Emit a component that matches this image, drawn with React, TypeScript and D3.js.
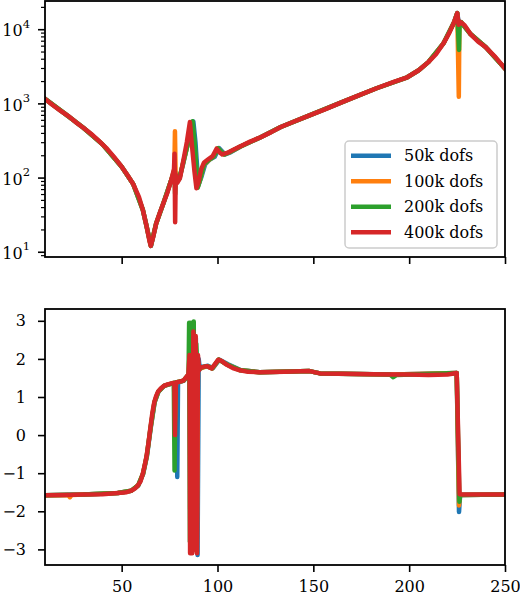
import React, { useEffect, useRef } from 'react';
import * as d3 from 'd3';

type Pt = [number, number];

// amplitude panel (log scale)
const ampBlue: Pt[] = [
  [10, 1150], [20, 740], [30, 470], [40, 280], [50, 140], [56, 82], [61, 37], [63, 22],
  [65.3, 12], [68, 24], [72, 47], [76, 95], [78, 120], [80, 95], [82, 150], [85, 330],
  [87.4, 570], [88.5, 300], [90, 78], [91.5, 100], [93.5, 150], [96, 175], [98.5, 190],
  [100.8, 250], [102.5, 225], [104, 205], [107, 220], [112, 262], [122, 345], [133, 480],
  [148, 690], [165, 1040], [183, 1600], [199, 2250], [205, 2800], [210, 3600], [218, 6500],
  [223.5, 12500], [225.1, 16500], [226, 11500], [227, 12500], [232, 8600], [240, 5700], [250, 2950],
];
const ampOrange: Pt[] = [
  [10, 1150], [20, 740], [30, 470], [40, 280], [50, 140], [56, 82], [61, 37], [63, 22],
  [65.2, 12], [68, 24], [72, 47], [76, 95], [77.5, 130], [77.8, 420], [78.2, 90], [80, 95],
  [82, 155], [85, 320], [86.8, 560], [88, 260], [89.6, 74], [91, 95], [93, 150], [95.5, 172],
  [98, 192], [100.2, 248], [102, 222], [103.5, 205], [106, 218], [112, 263], [122, 345],
  [133, 480], [148, 690], [165, 1040], [183, 1600], [199, 2250], [205, 2800], [210, 3600],
  [218, 6500], [223.5, 12500], [225.1, 16500], [225.9, 1230], [226.2, 11500], [227, 12500],
  [232, 8600], [240, 5700], [250, 2950],
];
const ampGreen: Pt[] = [
  [10, 1150], [20, 740], [30, 470], [40, 280], [50, 140], [56, 82], [61, 37], [63, 22],
  [65.2, 12], [68, 24], [72, 47], [76, 95], [77.5, 125], [77.9, 60], [78.3, 100], [80, 95],
  [82, 155], [85, 320], [87, 575], [88.2, 270], [89.7, 73], [91, 95], [93, 152], [95.5, 173],
  [98, 192], [100.3, 248], [102, 222], [103.6, 205], [106, 218], [112, 263], [122, 345],
  [133, 480], [148, 690], [165, 1040], [183, 1600], [199, 2250], [205, 2800], [210, 3600],
  [218, 6500], [223.5, 12500], [225.1, 16500], [226, 5250], [226.3, 11500], [227, 12500],
  [232, 8600], [240, 5700], [250, 2950],
];
const ampRed: Pt[] = [
  [10, 1150], [14, 950], [18, 800], [22, 680], [26, 560], [30, 470], [34, 390], [38, 315],
  [42, 250], [46, 190], [50, 140], [53, 108], [56, 82], [59, 55], [61, 37], [63, 22],
  [64.5, 14], [65.2, 12], [66.5, 16], [68, 24], [70, 34], [72, 47], [74, 64], [76, 95],
  [77.3, 130], [77.6, 210], [77.9, 25], [78.2, 110], [79, 85], [80.5, 100], [82, 160],
  [84, 300], [85.6, 560], [86.5, 300], [88, 120], [89, 72], [90, 85], [91.5, 130], [93, 160],
  [95, 175], [97.5, 195], [99.5, 245], [101, 220], [102.5, 205], [105, 215], [108, 235],
  [112, 265], [117, 305], [122, 345], [128, 410], [133, 480], [140, 570], [148, 690],
  [156, 830], [165, 1040], [174, 1290], [183, 1600], [192, 1950], [199, 2250], [205, 2800],
  [210, 3600], [214, 4600], [218, 6500], [221, 9000], [223.5, 12500], [225.1, 16500],
  [225.8, 11500], [226.8, 12500], [229, 11200], [232, 8600], [236, 6800], [240, 5700],
  [245, 4200], [250, 2950],
];

// phase panel (linear)
const phaseBlue: Pt[] = [
  [10, -1.58], [30, -1.56], [48, -1.52], [55, -1.46], [58.7, -1.32], [61.2, -1.02], [63.2, -0.55],
  [65.2, 0.2], [67.2, 0.86], [69.2, 1.14], [72.2, 1.29], [77.5, 1.37], [78.6, 1.36], [79, -1.1],
  [79.4, 1.38], [82.5, 1.43], [85.2, 1.59], [86, 2.2], [86.6, -2.9], [87.3, 2.3], [88, -2.9],
  [88.7, 2.55], [89.6, -3.15], [90.2, 2.0], [90.8, 1.72], [91.4, 1.78], [95, 1.82], [97.6, 1.76],
  [101, 1.98], [105.5, 1.86], [112, 1.71], [122, 1.65], [148, 1.68], [153.5, 1.62], [191.7, 1.59],
  [224.8, 1.63], [226, -2.02], [226.6, -1.57], [250, -1.56],
];
const phaseOrange: Pt[] = [
  [10, -1.58], [22, -1.57], [23, -1.63], [24, -1.57], [30, -1.56], [48, -1.52], [55, -1.46],
  [58.6, -1.32], [61.1, -1.02], [63.1, -0.55], [65.1, 0.2], [67.1, 0.86], [69.1, 1.14],
  [72, 1.29], [77.3, 1.37], [77.8, 0.4], [78.3, 1.38], [82.3, 1.43], [85, 1.59], [85.5, 2.3],
  [86, -3.0], [86.8, 2.5], [87.6, -3.0], [88.4, 2.6], [89.2, -3.05], [89.8, 1.9], [90.5, 1.74],
  [94.6, 1.81], [97.3, 1.75], [100.7, 1.98], [105, 1.85], [112, 1.7], [122, 1.65], [148, 1.68],
  [153.5, 1.62], [191.7, 1.59], [224.8, 1.63], [226, -1.85], [226.5, -1.57], [250, -1.56],
];
const phaseGreen: Pt[] = [
  [10, -1.58], [30, -1.56], [48, -1.52], [55, -1.46], [58.6, -1.32], [61.1, -1.02], [63.1, -0.55],
  [65.1, 0.2], [67.1, 0.86], [69.1, 1.14], [72, 1.29], [77.2, 1.37], [77.6, -0.93], [78.1, 1.38],
  [82.3, 1.43], [84.9, 1.59], [85.2, 2.95], [85.6, -2.8], [86.2, 2.95], [86.8, -2.9],
  [87.6, 2.98], [88.2, -2.9], [88.9, 2.4], [89.5, 1.8], [90.6, 1.76], [94.5, 1.81], [97.2, 1.75],
  [100.6, 1.98], [105, 1.85], [112, 1.7], [122, 1.65], [148, 1.68], [153.5, 1.62], [190, 1.59],
  [191.7, 1.52], [193.5, 1.58], [224.8, 1.63], [226.2, -1.75], [226.6, -1.57], [250, -1.56],
];
const phaseRed: Pt[] = [
  [10, -1.58], [20, -1.57], [30, -1.56], [40, -1.55], [48, -1.52], [52.6, -1.5], [55, -1.46],
  [57, -1.4], [58.5, -1.32], [59.8, -1.22], [61, -1.02], [62, -0.8], [63, -0.55], [64, -0.2],
  [65, 0.2], [66, 0.58], [67, 0.86], [68, 1.03], [69, 1.14], [70.5, 1.23], [72, 1.29],
  [74, 1.33], [77, 1.37], [77.5, 1.35], [77.8, 0.0], [78.3, 1.38], [80, 1.4], [82.2, 1.43],
  [84.8, 1.59], [85.4, 2.1], [85.7, -3.1], [86.2, 2.0], [86.8, -3.1], [87.4, 2.72], [88.0, -3.0],
  [88.6, 2.6], [89.3, -3.1], [89.8, 2.1], [90.4, 1.7], [90.9, 1.77], [94.4, 1.81], [97, 1.75],
  [98.5, 1.85], [100.4, 1.98], [102, 1.95], [104.7, 1.85], [108, 1.76], [111.7, 1.7],
  [116, 1.66], [122, 1.65], [135, 1.66], [148, 1.68], [153.5, 1.62], [165, 1.61], [180, 1.6],
  [191.7, 1.59], [200, 1.59], [210, 1.58], [220, 1.59], [224.8, 1.63], [226.3, -1.55],
  [228, -1.56], [240, -1.56], [250, -1.56],
];

const seriesNames = ['50k dofs', '100k dofs', '200k dofs', '400k dofs'];
const colors = ['#1f77b4', '#ff7f0e', '#2ca02c', '#d62728'];
const ampSeries = [ampBlue, ampOrange, ampGreen, ampRed];
const phaseSeries = [phaseBlue, phaseOrange, phaseGreen, phaseRed];

const xTicks = [50, 100, 150, 200, 250];
const ampTicks = [10, 100, 1000, 10000];
const phaseTicks = [-3, -2, -1, 0, 1, 2, 3];

const FONT = '"DejaVu Serif", serif';

const App: React.FC = () => {
  const ref = useRef<SVGSVGElement>(null);

  useEffect(() => {
    if (!ref.current) return;
    const svg = d3.select(ref.current);
    svg.selectAll('*').remove();

    const left = 45, right = 505;
    const top1 = 1, bot1 = 257;
    const top2 = 309, bot2 = 565;

    const x = d3.scaleLinear().domain([10, 250]).range([left, right]);
    const yAmp = d3.scaleLog().domain([8.5, 24000]).range([bot1, top1]);
    const yPh = d3.scaleLinear().domain([-3.41, 3.31]).range([bot2, top2]);

    const defs = svg.append('defs');
    defs.append('clipPath').attr('id', 'clip1').append('rect')
      .attr('x', left).attr('y', top1).attr('width', right - left).attr('height', bot1 - top1);
    defs.append('clipPath').attr('id', 'clip2').append('rect')
      .attr('x', left).attr('y', top2).attr('width', right - left).attr('height', bot2 - top2);

    const styleAxis = (g: d3.Selection<SVGGElement, unknown, null, undefined>, w: number) => {
      g.select('.domain').remove();
      g.selectAll('.tick line').attr('stroke', '#000').attr('stroke-width', w);
    };

    // ---- top panel
    const line1 = d3.line<Pt>().x(d => x(d[0])).y(d => yAmp(d[1]));
    const g1 = svg.append('g').attr('clip-path', 'url(#clip1)');
    ampSeries.forEach((s, i) => {
      g1.append('path').datum(s)
        .attr('fill', 'none').attr('stroke', colors[i]).attr('stroke-width', 4.5)
        .attr('stroke-linejoin', 'round').attr('stroke-linecap', 'square')
        .attr('d', line1);
    });

    const minor: number[] = [9];
    [10, 100, 1000].forEach(b => { for (let k = 2; k <= 9; k++) minor.push(b * k); });
    minor.push(20000);

    const ya = svg.append('g').attr('transform', `translate(${left},0)`)
      .call(d3.axisLeft(yAmp).tickValues(minor).tickSize(4).tickFormat(() => ''));
    styleAxis(ya, 1.2);

    const yA = svg.append('g').attr('transform', `translate(${left},0)`)
      .call(d3.axisLeft(yAmp).tickValues(ampTicks).tickSize(7).tickPadding(8).tickFormat(() => ''));
    styleAxis(yA, 1.6);
    yA.selectAll<SVGTextElement, number>('.tick text').each(function (d) {
      const t = d3.select(this).attr('font-family', FONT).attr('font-size', 16).attr('fill', '#000')
        .attr('dy', '0.42em');
      t.append('tspan').text('10');
      t.append('tspan').attr('font-size', 11.5).attr('dy', '-0.75em')
        .text(String(Math.round(Math.log10(d))));
    });

    const xa1 = svg.append('g').attr('transform', `translate(0,${bot1})`)
      .call(d3.axisBottom(x).tickValues(xTicks).tickSize(7).tickFormat(() => ''));
    styleAxis(xa1, 1.6);

    svg.append('rect').attr('x', left).attr('y', top1).attr('width', right - left).attr('height', bot1 - top1)
      .attr('fill', 'none').attr('stroke', '#000').attr('stroke-width', 1.8);

    // legend
    const lg = svg.append('g');
    lg.append('rect').attr('x', 345).attr('y', 141).attr('width', 152).attr('height', 107)
      .attr('rx', 4).attr('fill', '#fff').attr('fill-opacity', 0.8)
      .attr('stroke', '#cccccc').attr('stroke-width', 1.5);
    seriesNames.forEach((name, i) => {
      const yy = 155.7 + i * 25.5;
      lg.append('line').attr('x1', 351).attr('x2', 391).attr('y1', yy).attr('y2', yy)
        .attr('stroke', colors[i]).attr('stroke-width', 4.5);
      lg.append('text').attr('x', 404).attr('y', yy).attr('dy', '0.36em')
        .attr('font-family', FONT).attr('font-size', 16).attr('fill', '#000').text(name);
    });

    // ---- bottom panel
    const line2 = d3.line<Pt>().x(d => x(d[0])).y(d => yPh(d[1]));
    const g2 = svg.append('g').attr('clip-path', 'url(#clip2)');
    phaseSeries.forEach((s, i) => {
      g2.append('path').datum(s)
        .attr('fill', 'none').attr('stroke', colors[i]).attr('stroke-width', 4.5)
        .attr('stroke-linejoin', 'round').attr('stroke-linecap', 'square')
        .attr('d', line2);
    });

    const yP = svg.append('g').attr('transform', `translate(${left},0)`)
      .call(d3.axisLeft(yPh).tickValues(phaseTicks).tickSize(7).tickPadding(12)
        .tickFormat(d => (+d < 0 ? '\u2212' + Math.abs(+d) : String(d))));
    styleAxis(yP, 1.6);
    yP.selectAll('.tick text').attr('font-family', FONT).attr('font-size', 16).attr('fill', '#000');

    const xa2 = svg.append('g').attr('transform', `translate(0,${bot2})`)
      .call(d3.axisBottom(x).tickValues(xTicks).tickSize(7).tickPadding(9).tickFormat(d3.format('d')));
    styleAxis(xa2, 1.6);
    xa2.selectAll('.tick text').attr('font-family', FONT).attr('font-size', 16).attr('fill', '#000');

    svg.append('rect').attr('x', left).attr('y', top2).attr('width', right - left).attr('height', bot2 - top2)
      .attr('fill', 'none').attr('stroke', '#000').attr('stroke-width', 1.8);
  }, []);

  return (
    <svg
      ref={ref}
      width={520}
      height={597}
      style={{ position: 'absolute', left: 0, top: 0, background: '#fff' }}
    />
  );
};

export default App;
